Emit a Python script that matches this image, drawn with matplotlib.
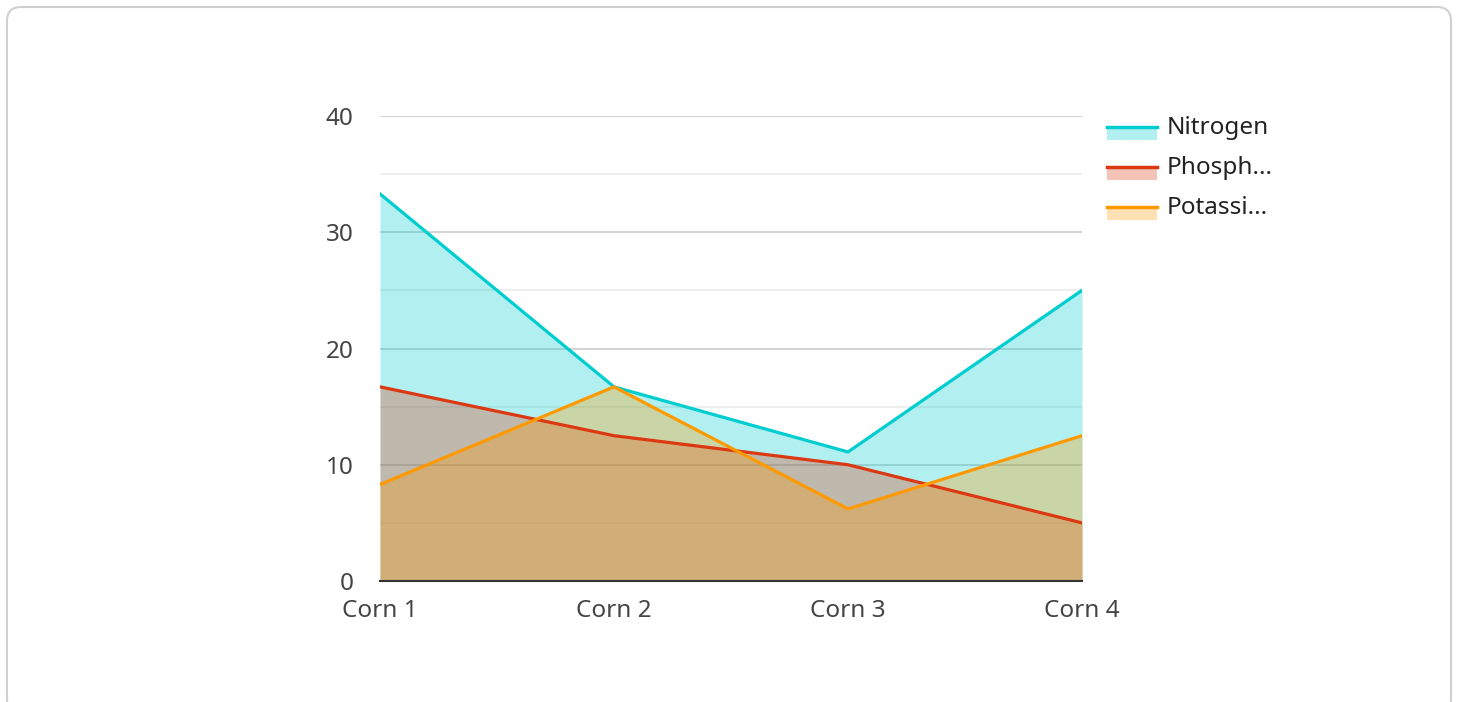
import matplotlib
matplotlib.use("Agg")
import matplotlib.pyplot as plt
from matplotlib.patches import FancyBboxPatch, Rectangle
from matplotlib.lines import Line2D
from matplotlib.transforms import IdentityTransform

plt.rcParams['font.family'] = ['Noto Sans', 'DejaVu Sans']

# Datos
categories = ["Corn 1", "Corn 2", "Corn 3", "Corn 4"]
nitrogen = [33.3, 16.7, 11.1, 25.0]
phosphorus = [16.7, 12.5, 10.0, 5.0]
potassium = [8.3, 16.7, 6.2, 12.5]

series_names = ["Nitrogen", "Phosph...", "Potassi..."]
series_vals = [nitrogen, phosphorus, potassium]
colors = ["#00cdcf", "#dc3912", "#ff9900"]

W, H = 1458, 702
fig = plt.figure(figsize=(W / 100, H / 100), dpi=100)

# marco redondeado en pixeles (el borde inferior queda fuera de la imagen)
fig.patches.append(FancyBboxPatch((7, -12), 1444, H - 7 + 12,
                                  boxstyle="round,pad=0,rounding_size=14",
                                  transform=IdentityTransform(), fill=False,
                                  edgecolor="#d0d0d0", linewidth=1.5))

ax = fig.add_axes([380 / W, 1 - 581 / H, 702 / W, 465 / H])
x = range(len(categories))

for vals, c in zip(series_vals, colors):
    ax.fill_between(x, 0, vals, color=c, alpha=0.3, linewidth=0)
for vals, c in zip(series_vals, colors):
    ax.plot(x, vals, color=c, linewidth=2.3, zorder=3)

ax.set_xlim(0, 3)
ax.set_ylim(0, 40)
ax.set_yticks([0, 10, 20, 30, 40])
ax.set_yticks([5, 15, 25, 35], minor=True)
ax.grid(axis="y", which="major", color="#cccccc", linewidth=1.2)
ax.grid(axis="y", which="minor", color="#ebebeb", linewidth=1.2)
ax.set_axisbelow(True)
ax.set_xticks(list(x))
ax.set_xticklabels(categories)
for s in ["top", "right", "left"]:
    ax.spines[s].set_visible(False)
ax.spines["bottom"].set_color("#333333")
ax.spines["bottom"].set_linewidth(1.5)
ax.spines["bottom"].set_zorder(4)
ax.tick_params(axis="both", which="both", length=0, labelsize=17.5, colors="#444444")
ax.tick_params(axis="y", pad=19)
ax.tick_params(axis="x", pad=13)
ax.patch.set_visible(False)

# Leyenda
for i, (name, c) in enumerate(zip(series_names, colors)):
    yc = 128 + 40 * i
    fig.patches.append(Rectangle((1107 / W, 1 - (yc + 12) / H), 50 / W, 14 / H,
                                 transform=fig.transFigure, facecolor=c,
                                 alpha=0.3, linewidth=0))
    fig.lines.append(Line2D([1107 / W, 1157 / W], [1 - (yc - 1) / H] * 2,
                            transform=fig.transFigure, color=c, linewidth=2.5))
    fig.text(1167 / W, 1 - yc / H, name, fontsize=17.5, color="#222222",
             va="center", ha="left")

plt.savefig("out.png", dpi=100)
